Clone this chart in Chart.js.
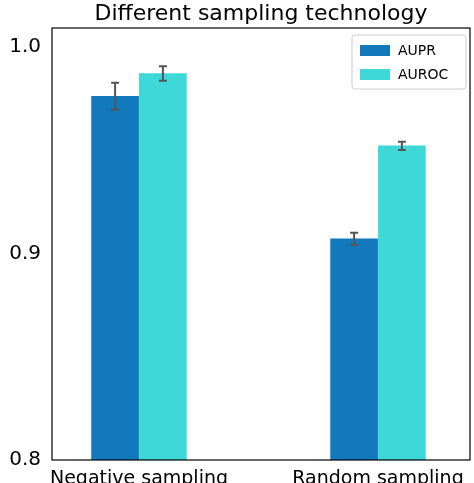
<!DOCTYPE html>
<html><head><meta charset="utf-8">
<script src="https://cdn.jsdelivr.net/npm/chart.js@4.4.0/dist/chart.umd.min.js"></script>
<style>body{margin:0;background:#fff}#wrap{width:474px;height:483px}</style>
</head><body><div id="wrap"><canvas id="c"></canvas></div>
<script>
const categories = ["Negative sampling", "Random sampling"];
const aupr = [0.976, 0.907];
const auprErr = [0.0065, 0.003];
const auroc = [0.987, 0.952];
const aurocErr = [0.0035, 0.002];
const yTicks = [0.8, 0.9, 1.0];

const font = "DejaVu Sans";

const errorBars = {
  id: "errorBars",
  afterDatasetsDraw(chart) {
    const ctx = chart.ctx, xs = chart.scales.x, ys = chart.scales.y;
    const sets = [[aupr, auprErr, -0.1], [auroc, aurocErr, 0.1]];
    ctx.save();
    ctx.strokeStyle = "#555";
    ctx.lineWidth = 2;
    sets.forEach(([v, e, off]) => {
      v.forEach((val, i) => {
        const x = xs.getPixelForValue(i + off);
        const y1 = ys.getPixelForValue(val - e[i]), y2 = ys.getPixelForValue(val + e[i]);
        ctx.beginPath();
        ctx.moveTo(x, y1); ctx.lineTo(x, y2);
        ctx.moveTo(x - 4, y1); ctx.lineTo(x + 4, y1);
        ctx.moveTo(x - 4, y2); ctx.lineTo(x + 4, y2);
        ctx.stroke();
      });
    });
    const a = chart.chartArea;
    ctx.strokeStyle = "#000"; ctx.lineWidth = 1.2;
    ctx.strokeRect(a.left, a.top, a.right - a.left, a.bottom - a.top);
    ctx.fillStyle = "#000";
    ctx.font = "22px '" + font + "'";
    ctx.textAlign = "center"; ctx.textBaseline = "bottom";
    ctx.fillText("Different sampling technology", (a.left + a.right) / 2, a.top - 3);
    const lx = 352, ly = 35;
    ctx.fillStyle = "rgba(255,255,255,0.8)";
    ctx.strokeStyle = "#ccc"; ctx.lineWidth = 1;
    ctx.beginPath(); ctx.roundRect(lx, ly, 114, 54, 3); ctx.fill(); ctx.stroke();
    const items = [["AUPR", chart.data.datasets[0].backgroundColor], ["AUROC", chart.data.datasets[1].backgroundColor]];
    ctx.font = "14px '" + font + "'"; ctx.textAlign = "left"; ctx.textBaseline = "middle";
    items.forEach(([t, c], i) => {
      const yy = ly + 15 + i * 24;
      ctx.fillStyle = c; ctx.fillRect(lx + 8, yy - 5, 30, 11);
      ctx.fillStyle = "#000"; ctx.fillText(t, lx + 46, yy + 1);
    });
    ctx.restore();
  }
};

new Chart(document.getElementById("c"), {
  type: "bar",
  data: {
    datasets: [
      { label: "AUPR", data: aupr.map((v, i) => ({ x: i - 0.1, y: v })), backgroundColor: "#1279bd", grouped: false, barThickness: 47 },
      { label: "AUROC", data: auroc.map((v, i) => ({ x: i + 0.1, y: v })), backgroundColor: "#3ed8d8", grouped: false, barThickness: 47 }
    ]
  },
  options: {
    responsive: true, maintainAspectRatio: false, animation: false,
    layout: { padding: { top: 28, right: 4, left: 0, bottom: 0 } },
    plugins: { legend: { display: false }, tooltip: { enabled: false } },
    scales: {
      x: {
        type: "linear", min: -0.364, max: 1.385, offset: false, bounds: "ticks",
        grid: { display: false }, border: { display: false },
        afterDataLimits: s => { s.min = -0.364; s.max = 1.385; },
        afterBuildTicks: s => { s.ticks = categories.map((c, i) => ({ value: i })); },
        afterFit: s => { s.height = 23; },
        ticks: { color: "#000", font: { family: font, size: 19 }, padding: 0, maxRotation: 0, autoSkip: false, callback: v => categories[v] }
      },
      y: {
        min: 0.8, max: 1.009,
        grid: { display: false }, border: { display: false },
        afterBuildTicks: s => { s.ticks = yTicks.map(v => ({ value: v })); },
        afterFit: s => { s.width = 52; },
        ticks: { color: "#000", font: { family: font, size: 20 }, callback: v => v.toFixed(1) }
      }
    }
  },
  plugins: [errorBars]
});
</script></body></html>
